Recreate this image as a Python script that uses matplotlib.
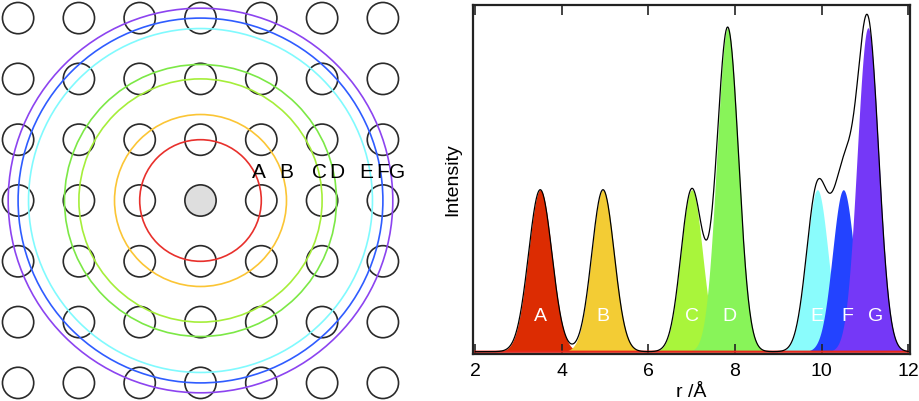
import numpy as np
import matplotlib.pyplot as plt
from matplotlib.patches import Circle

plt.rcParams['font.family'] = ['Liberation Sans', 'DejaVu Sans']

# shells of the square lattice (spacing a) and their peaks in r
a = 3.5
labels = ['A', 'B', 'C', 'D', 'E', 'F', 'G']
centers = [3.5, 4.95, 7.0, 7.83, 9.9, 10.5, 11.07]
heights = [1, 1, 1, 2, 1, 1, 2]
sigmas = [0.27, 0.26, 0.25, 0.25, 0.25, 0.25, 0.25]
fill_colors = ['#dc2c02', '#f3cc34', '#a9f53b', '#88f459', '#8afcfc', '#2343ff', '#7538f7']
ring_colors = ['#e8302c', '#fbc535', '#a5ee3a', '#7ce846', '#80fafe', '#2f5cff', '#8c44f0']
label_shift = [0, 0, 0, 0.05, 0, 0.1, 0.18]
ring_label_shift = [-0.15, 0, -0.15, 0, -0.35, 0, 0.25]

fig = plt.figure(figsize=(9.2, 4.01), dpi=100)

# ---- left: lattice with shells ----
ax1 = fig.add_axes([0, 0, 401 / 920, 1])
ax1.set_aspect('equal')
lim = 200.5 / 60.8 * a
ax1.set_xlim(-lim, lim)
ax1.set_ylim(-lim, lim)
ax1.axis('off')

for i in range(-3, 4):
    for j in range(-3, 4):
        fc = '#dedede' if (i == 0 and j == 0) else 'none'
        ax1.add_patch(Circle((i * a, j * a), 0.9, facecolor=fc,
                             edgecolor='#2a2a2a', lw=1.2))

for r, c in zip(centers, ring_colors):
    ax1.add_patch(Circle((0, 0), r, facecolor='none', edgecolor=c, lw=1.2))

for r, lab, s in zip(centers, labels, ring_label_shift):
    ax1.text(r + s, 1.6, lab, ha='center', va='center', fontsize=15, color='black')

# ---- right: radial distribution ----
ax2 = fig.add_axes([0.5138, 0.1165, 0.4753, 0.871])
x = np.linspace(2, 12, 1200)
total = np.zeros_like(x)
for c, h, s, col in zip(centers, heights, sigmas, fill_colors):
    y = h * np.exp(-(x - c) ** 2 / (2 * s ** 2))
    total += y
    ax2.fill_between(x, 0, y, color=col, lw=0)

ax2.plot(x, np.zeros_like(x), color='#e8281c', lw=1.6)
ax2.plot(x, total, color='black', lw=0.9)

for c, lab, s in zip(centers, labels, label_shift):
    ax2.text(c + s, 0.22, lab, ha='center', va='center', fontsize=14, color='white')

ax2.set_xlim(1.94, 12.04)
ax2.set_ylim(-0.016, 2.14)
ax2.set_xticks([2, 4, 6, 8, 10, 12])
ax2.set_yticks([])
ax2.tick_params(axis='x', direction='in', length=7, width=1.2, top=True,
                labelsize=14, pad=6, color='#222222')
for sp in ax2.spines.values():
    sp.set_linewidth(1.6)
    sp.set_color('#222222')
ax2.set_xlabel('r /Å', fontsize=14, labelpad=3)
ax2.set_ylabel('Intensity', fontsize=14, labelpad=8)

fig.savefig('out.png', dpi=100)
